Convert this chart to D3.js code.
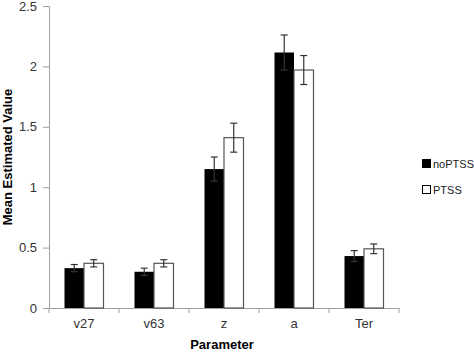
<!DOCTYPE html>
<html>
<head>
<meta charset="utf-8">
<script src="https://cdn.jsdelivr.net/npm/d3@7"></script>
<style>
  body { margin: 0; background: #fff; }
  svg { display: block; font-family: "Liberation Sans", Arial, sans-serif; }
</style>
</head>
<body>
<div id="chart"></div>
<script>
// data
var params = ["v27", "v63", "z", "a", "Ter"];
var groups = ["noPTSS", "PTSS"];
var noPTSS = [0.33, 0.30, 1.15, 2.115, 0.43];
var PTSS = [0.37, 0.37, 1.41, 1.97, 0.49];
var noPTSSErr = [0.03, 0.03, 0.10, 0.145, 0.045];
var PTSSErr = [0.03, 0.03, 0.12, 0.12, 0.04];
var yTicks = [0, 0.5, 1, 1.5, 2, 2.5];

var W = 474, H = 352;
var margin = {top: 6, right: 75, bottom: 44, left: 49},
    width = W - margin.left - margin.right,
    height = H - margin.top - margin.bottom;

var svg = d3.select("#chart").append("svg")
    .attr("width", W).attr("height", H)
  .append("g")
    .attr("transform", "translate(" + margin.left + "," + margin.top + ")");

var x = d3.scaleBand().domain(params).range([0, width]).paddingInner(0).paddingOuter(0);
var xg = d3.scaleBand().domain(groups).range([0, 39]);
var y = d3.scaleLinear().domain([0, 2.5]).range([height, 0]);

var rows = params.map(function(p, i) {
  return [
    {p: p, g: "noPTSS", v: noPTSS[i], e: noPTSSErr[i]},
    {p: p, g: "PTSS", v: PTSS[i], e: PTSSErr[i]}
  ];
});
var flat = [].concat.apply([], rows);
var off = (x.bandwidth() - 39) / 2;

// axes
var yAxis = svg.append("g")
    .call(d3.axisLeft(y).tickValues(yTicks).tickSize(6).tickPadding(6).tickFormat(d3.format("")));
yAxis.select(".domain").attr("stroke", "#a0a0a0");
yAxis.selectAll(".tick line").attr("stroke", "#a0a0a0");
yAxis.selectAll("text").attr("font-size", 13).attr("fill", "#333");

// x ticks sit on the category boundaries
var xAxis = svg.append("g")
    .attr("transform", "translate(0," + height + ")")
    .call(d3.axisBottom(x).tickSize(0).tickPadding(11));
xAxis.select(".domain").attr("stroke", "#a0a0a0");
xAxis.selectAll("text").attr("font-size", 13).attr("fill", "#333");
xAxis.selectAll(".bound")
    .data(params.map(function(p) { return x(p); }).concat([width]))
  .enter().append("line")
    .attr("class", "bound")
    .attr("x1", function(d) { return d; }).attr("x2", function(d) { return d; })
    .attr("y1", 0).attr("y2", 5)
    .attr("stroke", "#a0a0a0");

// bars
svg.selectAll(".bar")
    .data(flat)
  .enter().append("rect")
    .attr("class", "bar")
    .attr("x", function(d) { return x(d.p) + off + xg(d.g); })
    .attr("y", function(d) { return y(d.v); })
    .attr("width", xg.bandwidth())
    .attr("height", function(d) { return height - y(d.v); })
    .attr("fill", function(d) { return d.g == "noPTSS" ? "#000" : "#fff"; })
    .attr("stroke", function(d) { return d.g == "noPTSS" ? "none" : "#555"; })
    .attr("stroke-width", 1.2);

// error bars
var eb = svg.selectAll(".err")
    .data(flat)
  .enter().append("g")
    .attr("class", "err")
    .attr("transform", function(d) { return "translate(" + (x(d.p) + off + xg(d.g) + xg.bandwidth() / 2) + ",0)"; })
    .attr("stroke", "#333").attr("stroke-width", 1.2);
eb.append("line")
    .attr("y1", function(d) { return y(d.v + d.e); })
    .attr("y2", function(d) { return y(d.v - d.e); });
eb.append("line")
    .attr("x1", -3.5).attr("x2", 3.5)
    .attr("y1", function(d) { return y(d.v + d.e); })
    .attr("y2", function(d) { return y(d.v + d.e); });
eb.append("line")
    .attr("x1", -3.5).attr("x2", 3.5)
    .attr("y1", function(d) { return y(d.v - d.e); })
    .attr("y2", function(d) { return y(d.v - d.e); });

// axis titles
svg.append("text")
    .attr("transform", "translate(" + (-margin.left + 12) + "," + (height / 2) + ") rotate(-90)")
    .attr("text-anchor", "middle")
    .attr("font-size", 13).attr("font-weight", "bold")
    .text("Mean Estimated Value");
svg.append("text")
    .attr("x", width / 2 - 2).attr("y", height + 41)
    .attr("text-anchor", "middle")
    .attr("font-size", 13).attr("font-weight", "bold")
    .text("Parameter");

// legend
var leg = svg.selectAll(".leg")
    .data(groups)
  .enter().append("g")
    .attr("class", "leg")
    .attr("transform", function(d, i) { return "translate(" + (width + 23) + "," + (162 + i * 26) + ")"; });
leg.append("rect")
    .attr("x", 0.5).attr("y", -8.5).attr("width", 8).attr("height", 8)
    .attr("fill", function(d) { return d == "noPTSS" ? "#000" : "#fff"; })
    .attr("stroke", "#000");
leg.append("text")
    .attr("x", 11).attr("y", 0)
    .attr("font-size", 11).attr("fill", "#222")
    .text(function(d) { return d; });
</script>
</body>
</html>
